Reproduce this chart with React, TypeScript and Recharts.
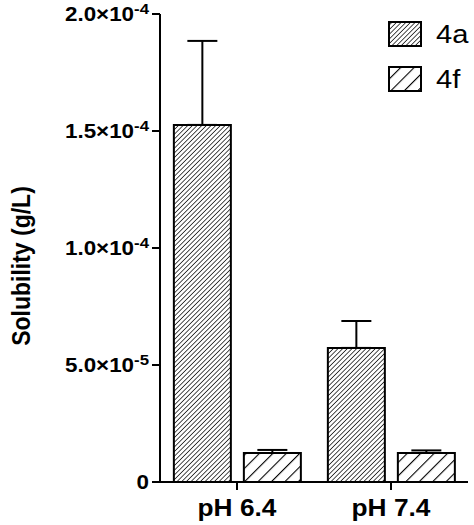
import React from "react";
import { Bar, BarChart, ErrorBar, XAxis, YAxis } from "recharts";

const categories = ["pH 6.4", "pH 7.4"];
const solubility4a = [1.526e-4, 5.73e-5];
const error4a = [3.59e-5, 1.15e-5];
const solubility4f = [1.24e-5, 1.24e-5];
const error4f = [1.3e-6, 1.1e-6];
const yTicks = [0, 5e-5, 1e-4, 1.5e-4, 2e-4];
const seriesLabels = ["4a", "4f"];

const data = categories.map((name, i) => ({
  name,
  a: solubility4a[i],
  aErr: [0, error4a[i]],
  f: solubility4f[i],
  fErr: [0, error4f[i]],
}));

const FONT = "'Liberation Sans', Arial, sans-serif";
const STRETCH = 1.12;

function Patterns({ prefix }: { prefix: string }) {
  return (
    <defs>
      <pattern id={`${prefix}-dense`} patternUnits="userSpaceOnUse" width={3.3} height={3.3} patternTransform="rotate(45)">
        <rect width={3.3} height={3.3} fill="#fff" />
        <line x1={0} y1={0} x2={0} y2={3.3} stroke="#000" strokeWidth={1.4} />
      </pattern>
      <pattern id={`${prefix}-sparse`} patternUnits="userSpaceOnUse" width={9.5} height={9.5} patternTransform="rotate(45)">
        <rect width={9.5} height={9.5} fill="#fff" />
        <line x1={0} y1={0} x2={0} y2={9.5} stroke="#000" strokeWidth={2.2} />
      </pattern>
    </defs>
  );
}

function YTick({ x, y, payload }: any) {
  const v = payload.value;
  if (v === 0) {
    return (
      <g transform={`translate(${x},${y}) scale(${STRETCH},1)`}>
        <text x={0} y={7} textAnchor="end" fontFamily={FONT} fontWeight="bold" fontSize={20} fill="#000">0</text>
      </g>
    );
  }
  const [mant, exp] = v.toExponential(1).split("e");
  return (
    <g transform={`translate(${x},${y}) scale(${STRETCH},1)`}>
      <text x={0} y={7} textAnchor="end" fontFamily={FONT} fontWeight="bold" fontSize={20} fill="#000">
        {mant}×10
        <tspan dy={-7} fontSize={15}>{exp}</tspan>
      </text>
    </g>
  );
}

function XTick({ x, y, payload }: any) {
  return (
    <g transform={`translate(${x},${y}) scale(${STRETCH},1)`}>
      <text x={0} y={24} textAnchor="middle" fontFamily={FONT} fontWeight="bold" fontSize={23.5} fill="#000">
        {payload.value}
      </text>
    </g>
  );
}

function LegendBox() {
  const fills = ["dense", "sparse"];
  return (
    <div style={{ position: "absolute", top: 21, left: 388 }}>
      {seriesLabels.map((label, i) => (
        <div key={label} style={{ display: "flex", alignItems: "center", height: 26, marginBottom: i === 0 ? 19 : 0 }}>
          <svg width={34} height={26}>
            <Patterns prefix={`lg${i}`} />
            <rect x={1} y={1} width={32} height={24} fill={`url(#lg${i}-${fills[i]})`} stroke="#000" strokeWidth={2} />
          </svg>
          <span
            style={{
              fontFamily: FONT,
              fontSize: 26,
              marginLeft: 14,
              display: "inline-block",
              transform: `scaleX(${STRETCH})`,
              transformOrigin: "left center",
              lineHeight: "26px",
            }}
          >
            {label}
          </span>
        </div>
      ))}
    </div>
  );
}

export default function App() {
  return (
    <div style={{ position: "absolute", left: 0, top: 0, width: 474, height: 525, background: "#fff" }}>
      <BarChart
        width={474}
        height={525}
        data={data}
        margin={{ top: 14, right: 6, bottom: 0, left: 0 }}
        barCategoryGap="9%"
        barGap={13}
      >
        <Patterns prefix="ch" />
        <XAxis
          dataKey="name"
          axisLine={{ stroke: "#000", strokeWidth: 2 }}
          tickLine={{ stroke: "#000", strokeWidth: 2 }}
          tickSize={8}
          tick={<XTick />}
          interval={0}
          height={43}
        />
        <YAxis
          width={160}
          domain={[0, 2e-4]}
          ticks={yTicks}
          axisLine={{ stroke: "#000", strokeWidth: 2 }}
          tickLine={{ stroke: "#000", strokeWidth: 2 }}
          tickSize={8}
          tickMargin={3}
          tick={<YTick />}
          label={{
            content: () => (
              <g transform={`translate(30,266) scale(${STRETCH},1) rotate(-90)`}>
                <text
                  x={0}
                  y={0}
                  textAnchor="middle"
                  fontFamily={FONT}
                  fontWeight="bold"
                  fontSize={23}
                  fill="#000"
                >
                  Solubility (g/L)
                </text>
              </g>
            ),
          }}
        />
        <Bar dataKey="a" name={seriesLabels[0]} fill="url(#ch-dense)" stroke="#000" strokeWidth={2} isAnimationActive={false}>
          <ErrorBar dataKey="aErr" direction="y" width={15} stroke="#000" strokeWidth={2} />
        </Bar>
        <Bar dataKey="f" name={seriesLabels[1]} fill="url(#ch-sparse)" stroke="#000" strokeWidth={2} isAnimationActive={false}>
          <ErrorBar dataKey="fErr" direction="y" width={15} stroke="#000" strokeWidth={2} />
        </Bar>
      </BarChart>
      <LegendBox />
    </div>
  );
}
